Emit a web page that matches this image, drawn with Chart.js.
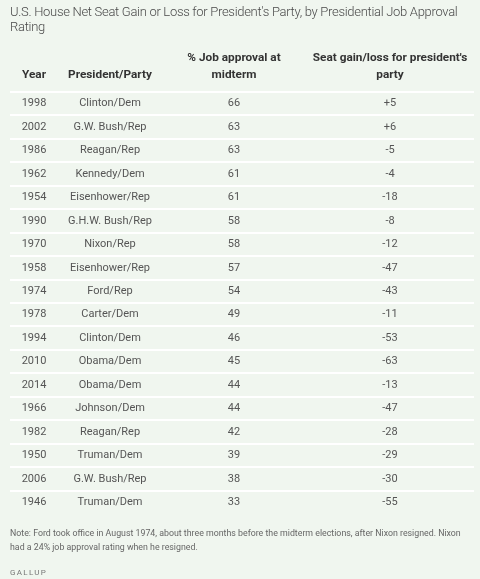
<!DOCTYPE html>
<html>
<head>
<meta charset="utf-8">
<script src="https://cdn.jsdelivr.net/npm/chart.js@4"></script>
<style>
  html, body { margin: 0; padding: 0; background: #f0f6ef; }
  body { width: 480px; height: 579px; position: relative; overflow: hidden; font-family: Roboto, sans-serif; }
  #wrap { position: absolute; left: 0; top: 0; width: 480px; height: 579px; }
  .title { position: absolute; left: 10px; top: 4px; width: 470px; font-size: 13px; font-weight: 300; letter-spacing: -0.3px; line-height: 15px; color: #4a4a4a; white-space: nowrap; }
  .note { position: absolute; left: 10px; top: 526px; font-size: 8.8px; line-height: 14px; color: #666; white-space: nowrap; }
  .src { position: absolute; left: 10px; top: 567px; font-size: 8px; line-height: 12px; letter-spacing: 1.3px; color: #777; }
</style>
</head>
<body>
<div id="wrap"><canvas id="table"></canvas></div>
<div class="title">U.S. House Net Seat Gain or Loss for President's Party, by Presidential Job Approval<br>Rating</div>
<div class="note">Note: Ford took office in August 1974, about three months before the midterm elections, after Nixon resigned. Nixon<br>had a 24% job approval rating when he resigned.</div>
<div class="src">GALLUP</div>
<script>
// table data, one row per midterm
const YEARS      = ['1998','2002','1986','1962','1954','1990','1970','1958','1974','1978','1994','2010','2014','1966','1982','1950','2006','1946'];
const PRESIDENTS = ['Clinton/Dem','G.W. Bush/Rep','Reagan/Rep','Kennedy/Dem','Eisenhower/Rep','G.H.W. Bush/Rep','Nixon/Rep','Eisenhower/Rep','Ford/Rep','Carter/Dem','Clinton/Dem','Obama/Dem','Obama/Dem','Johnson/Dem','Reagan/Rep','Truman/Dem','G.W. Bush/Rep','Truman/Dem'];
const APPROVAL   = [66, 63, 63, 61, 61, 58, 58, 57, 54, 49, 46, 45, 44, 44, 42, 39, 38, 33];
const SEATS      = [5, 6, -5, -4, -18, -8, -12, -47, -43, -11, -53, -63, -13, -47, -28, -29, -30, -55];
const HEADERS    = ['Year', 'President/Party', ['% Job approval at', 'midterm'], ["Seat gain/loss for president's", 'party']];

// column centres, px from the left edge of the table
const COL_X = [24, 100, 224, 380];

const fmtSeats = v => (v > 0 ? '+' : '') + v;

const cellText = {
  id: 'cellText',
  afterDatasetsDraw(chart) {
    const { ctx, scales: { x, y } } = chart;
    ctx.save();
    ctx.font = '400 11px Roboto, sans-serif';
    ctx.fillStyle = '#555';
    ctx.textAlign = 'center';
    ctx.textBaseline = 'middle';
    YEARS.forEach((yr, i) => {
      const py = y.getPixelForValue(i);
      const cells = [yr, PRESIDENTS[i], String(APPROVAL[i]), fmtSeats(SEATS[i])];
      cells.forEach((t, c) => ctx.fillText(t, x.getPixelForValue(COL_X[c]), py));
    });
    ctx.restore();
  }
};

new Chart(document.getElementById('table'), {
  type: 'scatter',
  data: { datasets: [] },
  options: {
    responsive: true,
    maintainAspectRatio: false,
    animation: false,
    layout: { padding: { top: 42, bottom: 65, left: 10, right: 6 } },
    plugins: { legend: { display: false }, tooltip: { enabled: false } },
    scales: {
      x: {
        type: 'linear',
        position: 'top',
        min: 0,
        max: 464,
        afterBuildTicks: axis => { axis.ticks = COL_X.map(v => ({ value: v })); },
        ticks: {
          autoSkip: false,
          maxRotation: 0,
          minRotation: 0,
          padding: 8,
          color: '#333',
          font: { family: 'Roboto', size: 11.8, weight: 'bold', lineHeight: '17px' },
          callback: (v, i) => HEADERS[i],
        },
        grid: { display: false, drawTicks: false },
        border: { display: false },
      },
      y: {
        type: 'category',
        labels: YEARS,
        offset: true,
        ticks: { display: false },
        grid: {
          offset: true,
          drawTicks: false,
          lineWidth: 2,
          color: c => (c.type === 'tick' ? '#ffffff' : 'rgba(0,0,0,0)'),
        },
        border: { display: false },
      },
    },
  },
  plugins: [cellText],
});
</script>
</body>
</html>
